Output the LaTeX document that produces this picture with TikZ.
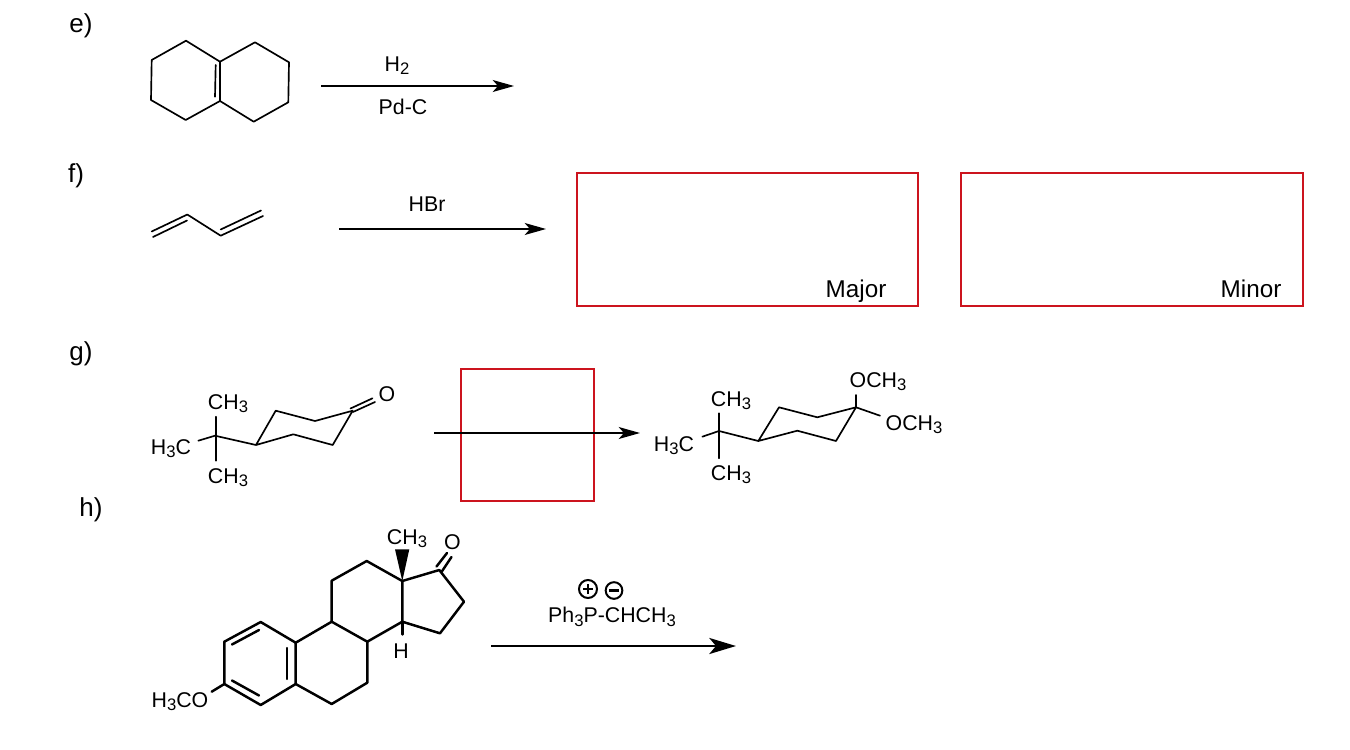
\documentclass[tikz,border=0pt]{standalone}
\usepackage{fontspec}
\setmainfont{Liberation Sans}
\usetikzlibrary{arrows.meta}
\definecolor{boxred}{RGB}{204,20,30}
\newcommand{\chemsub}[1]{\smash{\raisebox{-0.32ex}{\fontsize{12.5}{12.5}\selectfont #1}}}
\tikzset{
	bond/.style={line width=1.25pt,line join=round,line cap=round},
	boldbond/.style={line width=1.85pt,line join=round,line cap=round},
	rxn/.style={line width=0.9pt,-{Stealth[length=16pt,width=9pt,inset=4pt]}},
	boldrxn/.style={line width=2.1pt,-{Stealth[length=20pt,width=12pt,inset=5pt]}},
	answerbox/.style={draw=boxred,line width=1.5pt},
	chem/.style={font=\fontsize{16}{18}\selectfont,inner sep=0pt},
	tag/.style={font=\fontsize{19.5}{22}\selectfont,inner sep=0pt},
	boxtag/.style={font=\fontsize{18.2}{20}\selectfont,inner sep=0pt,anchor=base},
	charge/.style={circle,draw,line width=1.5pt,inner sep=0pt},
}
\begin{document}
\begin{tikzpicture}[x=0.75pt,y=-0.75pt]
	\useasboundingbox (0,0) rectangle (1350,750);
	\node[tag] (te) at (81,26) {e)};
	\node[tag] (tf) at (76,176) {f)};
	\node[tag] (tg) at (81,354) {g)};
	\node[tag] (th) at (91,510) {h)};
	\path (151.7,60) coordinate (e1)
	(186,40.7) coordinate (e2)
	(220,61.7) coordinate (e3)
	(220,101) coordinate (e4)
	(185.7,120) coordinate (e5)
	(151,100) coordinate (e6)
	(255,42.3) coordinate (e7)
	(289,62.3) coordinate (e8)
	(288.3,102.3) coordinate (e9)
	(253.7,121.7) coordinate (e10)
	(215.7,65) coordinate (e3i)
	(215,96.7) coordinate (e4i);
	\draw[bond] (e1) -- (e2) -- (e3) -- (e4) -- (e5) -- (e6) -- cycle;
	\draw[bond] (e3) -- (e7) -- (e8) -- (e9) -- (e10) -- (e4);
	\draw[bond] (e3i) -- (e4i);
	\path (321,86) coordinate (ea) (514,86) coordinate (eb);
	\draw[rxn] (ea) -- (eb);
	\node[chem] (ereagent) at (397,64) {H\chemsub{2}};
	\node[chem] (ecat) at (403,107) {Pd-C};
	\path (153,237) coordinate (f1)
	(151.7,231.5) coordinate (f1i)
	(187.3,214.5) coordinate (f2)
	(187,220.5) coordinate (f2i)
	(220.7,235.7) coordinate (f3)
	(220.7,229.5) coordinate (f3i)
	(263,216) coordinate (f4)
	(261,210.5) coordinate (f4i);
	\draw[bond] (f1) -- (f2i);
	\draw[bond] (f1i) -- (f2) -- (f3) -- (f4);
	\draw[bond] (f3i) -- (f4i);
	\path (339,229) coordinate (fa) (546,229) coordinate (fb);
	\draw[rxn] (fa) -- (fb);
	\node[chem] (freagent) at (427,204) {HBr};
	\path (577,173) coordinate (maj1) (918,306) coordinate (maj2)
	(961,173) coordinate (min1) (1303,306) coordinate (min2);
	\draw[answerbox] (maj1) rectangle (maj2);
	\draw[answerbox] (min1) rectangle (min2);
	\node[boxtag] (major) at (856,297) {Major};
	\node[boxtag] (minor) at (1251,297) {Minor};
	\path (215,435.7) coordinate (g0)
	(215.7,416.7) coordinate (gt)
	(215.7,460.7) coordinate (gb)
	(198.3,440.7) coordinate (gl)
	(256,445) coordinate (g1)
	(275.7,410.7) coordinate (g2)
	(315,421) coordinate (g3)
	(352.7,410.7) coordinate (g4)
	(332.7,445) coordinate (g5)
	(293.3,434.3) coordinate (g6)
	(350.5,408.5) coordinate (go1)
	(372.5,398.3) coordinate (go2)
	(353,412) coordinate (go3)
	(375,402) coordinate (go4);
	\draw[bond] (g1) -- (g2) -- (g3) -- (g4) -- (g5) -- (g6) -- (g1) -- (g0) -- (gl);
	\draw[bond] (gt) -- (gb);
	\draw[bond] (go1) -- (go2);
	\draw[bond] (go3) -- (go4);
	\node[chem] (gch3a) at (228,402) {CH\chemsub{3}};
	\node[chem] (gch3b) at (228,476) {CH\chemsub{3}};
	\node[chem] (gch3c) at (171,447) {H\chemsub{3}C};
	\node[chem] (goxy) at (387,394) {O};
	\path (461,369) coordinate (gbox1) (594,501) coordinate (gbox2);
	\draw[answerbox] (gbox1) rectangle (gbox2);
	\path (434,433) coordinate (ga) (640,433) coordinate (gc);
	\draw[rxn] (ga) -- (gc);
	\path (719,431) coordinate (p0)
	(719,413.3) coordinate (pt)
	(719,458.3) coordinate (pb)
	(702.3,436.7) coordinate (pl)
	(758.3,441) coordinate (p1)
	(779,407.3) coordinate (p2)
	(817.3,417.3) coordinate (p3)
	(856,407.3) coordinate (p4)
	(836,441) coordinate (p5)
	(797.3,430.7) coordinate (p6)
	(856,395) coordinate (po1)
	(880,415.7) coordinate (po2);
	\draw[bond] (p1) -- (p2) -- (p3) -- (p4) -- (p5) -- (p6) -- (p1) -- (p0) -- (pl);
	\draw[bond] (pt) -- (pb);
	\draw[bond] (po1) -- (p4) -- (po2);
	\node[chem] (pch3a) at (731,399) {CH\chemsub{3}};
	\node[chem] (pch3b) at (731,473) {CH\chemsub{3}};
	\node[chem] (pch3c) at (674,444) {H\chemsub{3}C};
	\node[chem] (poch3a) at (878,380) {OCH\chemsub{3}};
	\node[chem] (poch3b) at (914,423) {OCH\chemsub{3}};
	\path (224.3,684) coordinate (s1)
	(224.3,641.7) coordinate (s2)
	(260.7,622) coordinate (s3)
	(295.7,642.7) coordinate (s4)
	(295.7,684) coordinate (s5)
	(260.7,705) coordinate (s6)
	(331.7,621.7) coordinate (s7)
	(367.3,641.7) coordinate (s8)
	(367.3,682.7) coordinate (s9)
	(331.7,704) coordinate (s10)
	(331.7,580.7) coordinate (s11)
	(366.7,561) coordinate (s12)
	(402.3,581) coordinate (s13)
	(402.3,621.7) coordinate (s14)
	(439.3,570) coordinate (s15)
	(464,601.7) coordinate (s16)
	(440,633.3) coordinate (s17)
	(211.7,691.7) coordinate (so)
	(232,644.5) coordinate (d1a)
	(259,630) coordinate (d1b)
	(287,648) coordinate (d2a)
	(287,679) coordinate (d2b)
	(232,680.5) coordinate (d3a)
	(259,695.5) coordinate (d3b)
	(436.5,566.5) coordinate (c1a)
	(447,553) coordinate (c1b)
	(441.5,572) coordinate (c2a)
	(451.5,557) coordinate (c2b)
	(395,549.3) coordinate (w1)
	(409.3,549.3) coordinate (w2)
	(402.3,634.5) coordinate (hb);
	\draw[boldbond] (s1) -- (s2) -- (s3) -- (s4) -- (s5) -- (s6) -- cycle;
	\draw[boldbond] (s4) -- (s7) -- (s8) -- (s9) -- (s10) -- (s5);
	\draw[boldbond] (s7) -- (s11) -- (s12) -- (s13) -- (s14) -- (s8);
	\draw[boldbond] (s13) -- (s15) -- (s16) -- (s17) -- (s14);
	\draw[boldbond] (s1) -- (so);
	\draw[boldbond] (d1a) -- (d1b);
	\draw[boldbond] (d2a) -- (d2b);
	\draw[boldbond] (d3a) -- (d3b);
	\draw[boldbond] (c1a) -- (c1b);
	\draw[boldbond] (c2a) -- (c2b);
	\fill (s13) -- (w1) -- (w2) -- cycle;
	\draw[boldbond] (s14) -- (hb);
	\node[chem] (sch3) at (407,537) {CH\chemsub{3}};
	\node[chem] (soxy) at (452.3,542) {O};
	\node[chem] (shyd) at (401,651) {H};
	\node[chem] (sme) at (180,700) {H\chemsub{3}CO};
	\path (491,646) coordinate (sa) (736,646) coordinate (sb);
	\draw[boldrxn] (sa) -- (sb);
	\node[chem] (sreagent) at (612,615) {Ph\chemsub{3}P-CHCH\chemsub{3}};
	\node[charge,minimum size=13.5pt] (plus) at (588,589) {};
	\node[charge,minimum size=12.5pt] (minus) at (614,590.5) {};
	\draw[line width=1.9pt] (plus.center) ++(-5,0) -- ++(10,0) ++(-5,-5) -- ++(0,10);
	\draw[line width=1.9pt] (minus.center) ++(-5,0) -- ++(10,0);
\end{tikzpicture}
\end{document}
